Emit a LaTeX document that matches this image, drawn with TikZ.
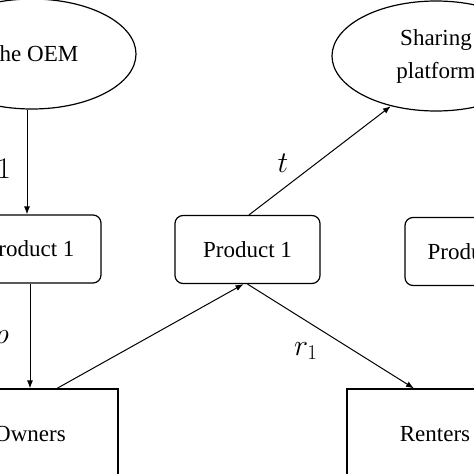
\RequirePackage{fix-cm}
\documentclass[tikz,border=0pt]{standalone}
\usepackage{fontspec}
\setmainfont{Liberation Serif}
\usetikzlibrary{shapes.geometric,arrows.meta}
\begin{document}
\begin{tikzpicture}[x=1pt,y=-1pt,
  every node/.style={font=\fontsize{23}{33}\selectfont},
  oval/.style={draw, ellipse, line width=1.2pt, minimum width=208pt, minimum height=110pt, inner sep=0pt, align=center},
  rbox/.style={draw, rounded corners=8pt, line width=1.2pt, minimum height=68pt, inner sep=0pt},
  sbox/.style={draw, line width=1.2pt, inner sep=0pt, minimum width=176pt, minimum height=90pt},
  conn/.style={line width=1pt, -{Latex[length=8pt,width=6pt]}},
  lab/.style={font=\fontsize{30}{32}\selectfont, inner sep=0pt}]
\useasboundingbox (0,0) rectangle (474,474);
\clip (0,0) rectangle (474,474);
\node[oval] (oem) at (32,54) {The OEM};
\node[oval] (share) at (436,56) {Sharing\\platform};
\node[rbox, minimum width=142pt] (p1a) at (30,249) {Product 1};
\node[rbox, minimum width=145pt] (p1b) at (247.5,249.5) {Product 1};
\node[rbox, minimum width=134pt] (p2) at (472,251.5) {Product 2};
\node[sbox] (own) at (30,434) {Owners};
\node[sbox] (rent) at (435,434) {Renters};
\draw[conn] (oem.south -| 27,0) -- (p1a.north -| 27,0);
\draw[conn] (p1a.south) -- (own.north);
\draw[conn] ([xshift=27pt]own.north) -- ([xshift=-4pt]p1b.south);
\draw[conn] (p1b.south) -- ([xshift=-21pt]rent.north);
\draw[conn] ([xshift=1.5pt]p1b.north) -- (share.228);
\node[lab, anchor=base] (t) at (283,172) {$t$};
\node[lab, anchor=base west] (r) at (294,355) {$r_1$};
\node[lab, anchor=base east] (p) at (9,343) {$p$};
\node[lab, anchor=base] (one) at (4,178) {$1$};
\end{tikzpicture}
\end{document}
